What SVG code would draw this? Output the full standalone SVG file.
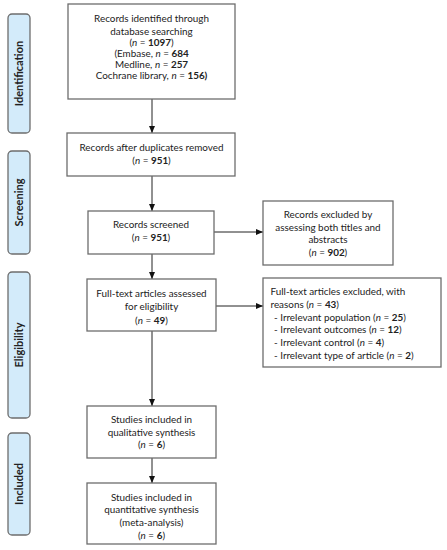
<svg xmlns="http://www.w3.org/2000/svg" width="447" height="550" viewBox="0 0 447 550">
<defs>
<style>
.box{fill:#fff;stroke:#6d6d6d;stroke-width:1.3}
.side{fill:#d3ebfa;stroke:#6d6d6d;stroke-width:1.3}
text{font-family:Lato,"Liberation Sans",sans-serif;font-size:9.9px;fill:#222}
.c{text-anchor:middle}
.s{font-weight:bold;font-size:11px;text-anchor:middle}
.b{font-weight:bold}
.i{font-style:italic}
.ln{stroke:#222;stroke-width:1;fill:none}
</style>
<marker id="ah" markerWidth="8" markerHeight="8" refX="7" refY="4" orient="auto" markerUnits="userSpaceOnUse">
<path d="M0,1 L7,4 L0,7 Z" fill="#111"/>
</marker>
</defs>
<rect width="447" height="550" fill="#fff"/>

<g id="side-identification"><rect class="side" x="8" y="14" width="22" height="119" rx="4"/><text class="s" transform="translate(23,73.5) rotate(-90)">Identification</text></g>
<g id="side-screening"><rect class="side" x="8" y="151" width="22" height="103" rx="4"/><text class="s" transform="translate(23,202.5) rotate(-90)">Screening</text></g>
<g id="side-eligibility"><rect class="side" x="8" y="272" width="22" height="146" rx="4"/><text class="s" transform="translate(23,345) rotate(-90)">Eligibility</text></g>
<g id="side-included"><rect class="side" x="8" y="433" width="22" height="102" rx="4"/><text class="s" transform="translate(23,484) rotate(-90)">Included</text></g>

<g id="connectors">
<line class="ln" x1="152" y1="99" x2="152" y2="133" marker-end="url(#ah)"/>
<line class="ln" x1="152" y1="176" x2="152" y2="211" marker-end="url(#ah)"/>
<line class="ln" x1="214" y1="232" x2="263" y2="232" marker-end="url(#ah)"/>
<line class="ln" x1="152" y1="254" x2="152" y2="279" marker-end="url(#ah)"/>
<line class="ln" x1="216" y1="306" x2="263" y2="306" marker-end="url(#ah)"/>
<line class="ln" x1="152" y1="331" x2="152" y2="406" marker-end="url(#ah)"/>
<line class="ln" x1="152" y1="458" x2="152" y2="483" marker-end="url(#ah)"/>
</g>

<g id="n1"><rect class="box" x="68" y="4" width="167" height="95"/>
<text class="c" x="151.5" y="21.5">Records identified through</text>
<text class="c" x="151.5" y="34.5">database searching</text>
<text class="c" x="151.5" y="46">(<tspan class="i">n</tspan> = <tspan class="b">1097</tspan>)</text>
<text class="c" x="151.5" y="57">(Embase, <tspan class="i">n</tspan> = <tspan class="b">684</tspan></text>
<text class="c" x="151.5" y="68">Medline, <tspan class="i">n</tspan> = <tspan class="b">257</tspan></text>
<text class="c" x="151.5" y="79">Cochrane library, <tspan class="i">n</tspan> = <tspan class="b">156)</tspan></text>
</g>

<g id="n2"><rect class="box" x="67" y="133" width="168" height="43"/>
<text class="c" x="151.5" y="150.5">Records after duplicates removed</text>
<text class="c" x="151.5" y="163.5">(<tspan class="i">n</tspan> = <tspan class="b">951</tspan>)</text>
</g>

<g id="n3"><rect class="box" x="88" y="211" width="126" height="43"/>
<text class="c" x="151" y="227.5">Records screened</text>
<text class="c" x="151" y="240.5">(<tspan class="i">n</tspan> = <tspan class="b">951</tspan>)</text>
</g>

<g id="n4"><rect class="box" x="263" y="201" width="130" height="64"/>
<text class="c" x="328" y="217.5">Records excluded by</text>
<text class="c" x="328" y="230.5">assessing both titles and</text>
<text class="c" x="328" y="243">abstracts</text>
<text class="c" x="328" y="255.5">(<tspan class="i">n</tspan> = <tspan class="b">902</tspan>)</text>
</g>

<g id="n5"><rect class="box" x="87" y="279" width="129" height="52"/>
<text class="c" x="151.5" y="296.5">Full-text articles assessed</text>
<text class="c" x="151.5" y="309.5">for eligibility</text>
<text class="c" x="151.5" y="323.5">(<tspan class="i">n</tspan> = <tspan class="b">49</tspan>)</text>
</g>

<g id="n6"><rect class="box" x="263" y="278" width="178" height="89"/>
<text x="270.5" y="294.5">Full-text articles excluded, with</text>
<text x="270.5" y="307.5">reasons (<tspan class="i">n</tspan> = <tspan class="b">43</tspan>)</text>
<text x="274" y="320.5">- Irrelevant population (<tspan class="i">n</tspan> = <tspan class="b">25</tspan>)</text>
<text x="274" y="332.5">- Irrelevant outcomes (<tspan class="i">n</tspan> = <tspan class="b">12</tspan>)</text>
<text x="274" y="345.5">- Irrelevant control (<tspan class="i">n</tspan> = <tspan class="b">4</tspan>)</text>
<text x="274" y="358.5">- Irrelevant type of article (<tspan class="i">n</tspan> = <tspan class="b">2</tspan>)</text>
</g>

<g id="n7"><rect class="box" x="87" y="406" width="129" height="52"/>
<text class="c" x="151.5" y="422.5">Studies included in</text>
<text class="c" x="151.5" y="435.5">qualitative synthesis</text>
<text class="c" x="151.5" y="447.5">(<tspan class="i">n</tspan> = <tspan class="b">6</tspan>)</text>
</g>

<g id="n8"><rect class="box" x="87" y="483" width="129" height="61"/>
<text class="c" x="151.5" y="500.5">Studies included in</text>
<text class="c" x="151.5" y="512.5">quantitative synthesis</text>
<text class="c" x="151.5" y="525.5">(meta-analysis)</text>
<text class="c" x="151.5" y="538.5">(<tspan class="i">n</tspan> = <tspan class="b">6</tspan>)</text>
</g>
</svg>
